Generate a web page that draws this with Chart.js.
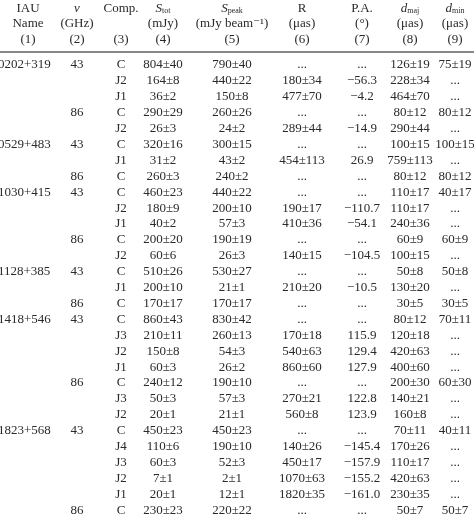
<!DOCTYPE html>
<html>
<head>
<meta charset="utf-8">
<script src="https://cdn.jsdelivr.net/npm/chart.js@4"></script>
<style>
  html, body { margin: 0; padding: 0; background: #fff; }
  #wrap { width: 474px; height: 517px; }
</style>
</head>
<body>
<div id="wrap"><canvas id="c"></canvas></div>
<script>
const names = ["0202+319","","","","","0529+483","","","1030+415","","","","","1128+385","","","1418+546","","","","","","","1823+568","","","","",""];
const freqs = ["43","","","86","","43","","86","43","","","86","","43","","86","43","","","","86","","","43","","","","","86"];
const comps = ["C","J2","J1","C","J2","C","J1","C","C","J2","J1","C","J2","C","J1","C","C","J3","J2","J1","C","J3","J2","C","J4","J3","J2","J1","C"];
const stot = ["804±40","164±8","36±2","290±29","26±3","320±16","31±2","260±3","460±23","180±9","40±2","200±20","60±6","510±26","200±10","170±17","860±43","210±11","150±8","60±3","240±12","50±3","20±1","450±23","110±6","60±3","7±1","20±1","230±23"];
const speak = ["790±40","440±22","150±8","260±26","24±2","300±15","43±2","240±2","440±22","200±10","57±3","190±19","26±3","530±27","21±1","170±17","830±42","260±13","54±3","26±2","190±10","57±3","21±1","450±23","190±10","52±3","2±1","12±1","220±22"];
const radius = ["...","180±34","477±70","...","289±44","...","454±113","...","...","190±17","410±36","...","140±15","...","210±20","...","...","170±18","540±63","860±60","...","270±21","560±8","...","140±26","450±17","1070±63","1820±35","..."];
const pa = ["...","−56.3","−4.2","...","−14.9","...","26.9","...","...","−110.7","−54.1","...","−104.5","...","−10.5","...","...","115.9","129.4","127.9","...","122.8","123.9","...","−145.4","−157.9","−155.2","−161.0","..."];
const dmaj = ["126±19","228±34","464±70","80±12","290±44","100±15","759±113","80±12","110±17","110±17","240±36","60±9","100±15","50±8","130±20","30±5","80±12","120±18","420±63","400±60","200±30","140±21","160±8","70±11","170±26","110±17","420±63","230±35","50±7"];
const dmin = ["75±19","...","...","80±12","...","100±15","...","80±12","40±17","...","...","60±9","...","50±8","...","30±5","70±11","...","...","...","60±30","...","...","40±11","...","...","...","...","50±7"];

const columns = [names, freqs, comps, stot, speak, radius, pa, dmaj, dmin];
const colX = [28, 77, 121, 163, 232, 302, 362, 410, 455];
const FONT = '"Liberation Serif", "DejaVu Serif", serif';
const SIZE = "13px ";

const tablePlugin = {
  id: "table",
  afterDraw(chart) {
    const ctx = chart.ctx;
    const xs = chart.scales.x, ys = chart.scales.y;
    ctx.save();
    ctx.fillStyle = "#2a2a2a";
    ctx.textBaseline = "middle";

    // header
    const h1 = ys.getPixelForValue(-3.58), h2 = ys.getPixelForValue(-2.58), h3 = ys.getPixelForValue(-1.57);
    const put = (t, x, y, font) => {
      ctx.font = font || (SIZE + FONT);
      ctx.textAlign = "center";
      ctx.fillText(t, xs.getPixelForValue(x), y);
    };
    const sub = (main, s, x, y) => {
      ctx.font = "italic " + SIZE + FONT;
      const w1 = ctx.measureText(main).width;
      ctx.font = "8px " + FONT;
      const w2 = ctx.measureText(s).width;
      const left = xs.getPixelForValue(x) - (w1 + w2) / 2;
      ctx.textAlign = "left";
      ctx.font = "italic " + SIZE + FONT;
      ctx.fillText(main, left, y);
      ctx.font = "8px " + FONT;
      ctx.fillText(s, left + w1, y + 3);
    };
    put("IAU", colX[0], h1);
    put("Name", colX[0], h2);
    put("ν", colX[1], h1, "italic " + SIZE + FONT);
    put("(GHz)", colX[1], h2);
    put("Comp.", colX[2], h1);
    sub("S", "tot", colX[3], h1);
    put("(mJy)", colX[3], h2);
    sub("S", "peak", colX[4], h1);
    put("(mJy beam⁻¹)", colX[4], h2);
    put("R", colX[5], h1);
    put("(μas)", colX[5], h2);
    put("P.A.", colX[6], h1);
    put("(°)", colX[6], h2);
    sub("d", "maj", colX[7], h1);
    put("(μas)", colX[7], h2);
    sub("d", "min", colX[8], h1);
    put("(μas)", colX[8], h2);
    colX.forEach((x, i) => put("(" + (i + 1) + ")", x, h3));

    // rule
    ctx.strokeStyle = "#888";
    ctx.lineWidth = 2;
    const ry = ys.getPixelForValue(-0.82);
    ctx.beginPath();
    ctx.moveTo(0, ry);
    ctx.lineTo(chart.width, ry);
    ctx.stroke();

    // body
    ctx.font = SIZE + FONT;
    columns.forEach((col, c) => {
      col.forEach((t, r) => {
        if (!t) return;
        const y = ys.getPixelForValue(r);
        if (c === 0) {
          ctx.textAlign = "left";
          ctx.fillText(t, xs.getPixelForValue(-2), y);
        } else {
          ctx.textAlign = "center";
          ctx.fillText(t, xs.getPixelForValue(colX[c]), y);
        }
      });
    });
    ctx.restore();
  }
};

new Chart(document.getElementById("c"), {
  type: "scatter",
  data: {
    datasets: [{
      data: comps.map((c, i) => ({ x: 0, y: i })),
      pointRadius: 0
    }]
  },
  options: {
    responsive: true,
    maintainAspectRatio: false,
    animation: false,
    layout: { padding: 0 },
    plugins: { legend: { display: false }, tooltip: { enabled: false } },
    scales: {
      x: { type: "linear", min: 0, max: 474, display: false },
      y: { type: "linear", min: -4.09, max: 28.43, reverse: true, display: false }
    }
  },
  plugins: [tablePlugin]
});
</script>
</body>
</html>
